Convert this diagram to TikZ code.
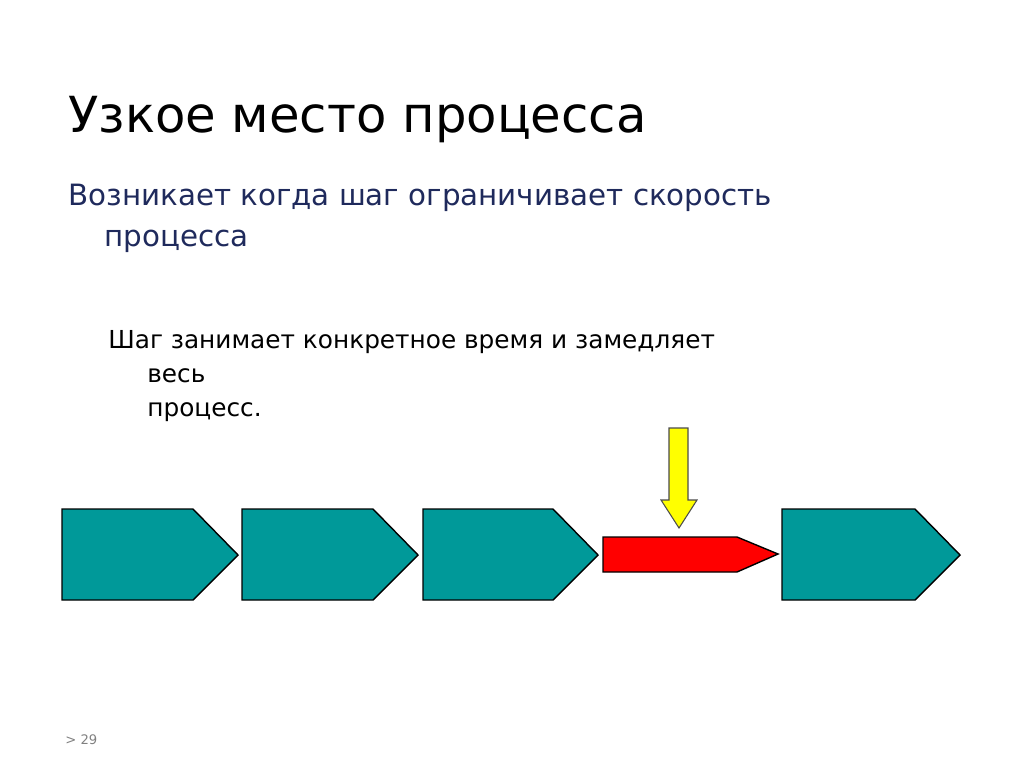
\documentclass[tikz,border=0pt]{standalone}
\usepackage{fontspec}
\setmainfont{DejaVu Sans}
\definecolor{stepteal}{HTML}{009999}
\definecolor{textnavy}{HTML}{1F2A5C}
\definecolor{slowred}{HTML}{FF0000}
\definecolor{markyellow}{HTML}{FFFF00}
\tikzset{
  stepbox/.style={draw=black, fill=stepteal, line width=0.8pt},
  slowbox/.style={draw=black, fill=slowred, line width=0.8pt},
  marker/.style={draw=black!70, fill=markyellow, line width=0.6pt}
}
% pentagon step: left x, right x
\newcommand{\stepshape}[3][stepbox]{%
  \draw[#1] (#2,509) -- (#3-45,509) -- (#3,555) -- (#3-45,600) -- (#2,600) -- cycle;}
\begin{document}
\begin{tikzpicture}[x=0.02cm, y=-0.02cm]
  \useasboundingbox (0,0) rectangle (1024,768);
  \node[anchor=base west, inner sep=0, font=\fontsize{28.3}{34}\selectfont] (title) at (68,132) {Узкое место процесса};
  \node[anchor=base west, inner sep=0, text=textnavy, font=\fontsize{16.7}{20}\selectfont] (line1) at (68,205) {Возникает когда шаг ограничивает скорость};
  \node[anchor=base west, inner sep=0, text=textnavy, font=\fontsize{16.7}{20}\selectfont] (line2) at (104,246) {процесса};
  \node[anchor=base west, inner sep=0, font=\fontsize{14.1}{17}\selectfont] (note1) at (108,348) {Шаг занимает конкретное время и замедляет};
  \node[anchor=base west, inner sep=0, font=\fontsize{14.1}{17}\selectfont] (note2) at (147,382) {весь};
  \node[anchor=base west, inner sep=0, font=\fontsize{14.1}{17}\selectfont] (note3) at (147,416) {процесс.};
  \stepshape{62}{238}
  \stepshape{242}{418}
  \stepshape{423}{598}
  \stepshape{782}{960}
  \draw[slowbox] (603,537) -- (737,537) -- (778,554) -- (737,572) -- (603,572) -- cycle;
  \draw[marker] (669,428) -- (688,428) -- (688,500) -- (697,500) -- (679,528) -- (661,500) -- (669,500) -- cycle;
  \node[anchor=base west, inner sep=0, text=black!50, font=\fontsize{7.5}{9}\selectfont] (page) at (65,744) {> 29};
\end{tikzpicture}
\end{document}
